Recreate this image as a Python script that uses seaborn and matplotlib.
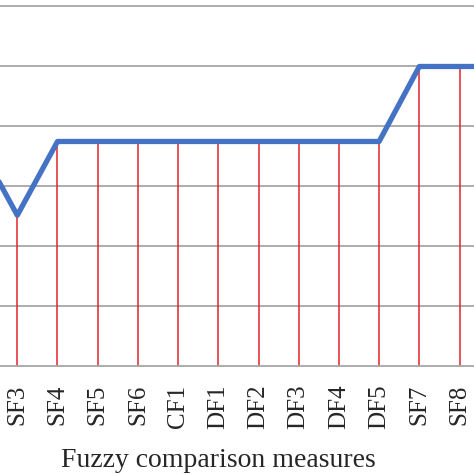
import numpy as np
import pandas as pd
import matplotlib
matplotlib.use("Agg")
import matplotlib.pyplot as plt
import seaborn as sns

# Data (visible crop of a larger chart; SF2 and SF9 lie just outside the frame)
categories = ["SF2", "SF3", "SF4", "SF5", "SF6", "CF1", "DF1", "DF2",
              "DF3", "DF4", "DF5", "SF7", "SF8", "SF9"]
values = [3.75, 2.52, 3.75, 3.75, 3.75, 3.75, 3.75, 3.75,
          3.75, 3.75, 3.75, 5.0, 5.0, 5.0]
x_title = "Fuzzy comparison measures"

sns.set_style("white")
plt.rcParams["font.family"] = ["Liberation Serif", "DejaVu Serif"]

df = pd.DataFrame({"pos": np.arange(len(categories)), "value": values,
                   "cat": categories})

fig = plt.figure(figsize=(4.74, 4.74), dpi=100)
ax = fig.add_axes([0, 0.2268, 1, 0.7732])

# grid lines
for g in range(1, 7):
    ax.axhline(g, color="#a6a6a6", lw=1.3, zorder=1)

# drop lines
ax.vlines(df["pos"], 0, df["value"], color="#e0242a", lw=1.1, zorder=2)

sns.lineplot(data=df, x="pos", y="value", sort=False, color="#4472C4",
             lw=3.8, ax=ax, zorder=3)

ax.set_xticks(df["pos"])
ax.set_xticklabels(categories, rotation=90, fontsize=18)
ax.set_xlim(0.570, 12.36)
ax.set_ylim(0, 6.108)
ax.tick_params(axis="x", length=0, pad=13)
ax.set_yticks([])
ax.set_xlabel("")
ax.set_ylabel("")
for s in ["top", "left", "right"]:
    ax.spines[s].set_visible(False)
ax.spines["bottom"].set_color("#a6a6a6")
ax.spines["bottom"].set_linewidth(1.3)

fig.text(218 / 474, 7 / 474, x_title, ha="center", va="baseline", fontsize=20)

fig.savefig("out.png", dpi=100)
